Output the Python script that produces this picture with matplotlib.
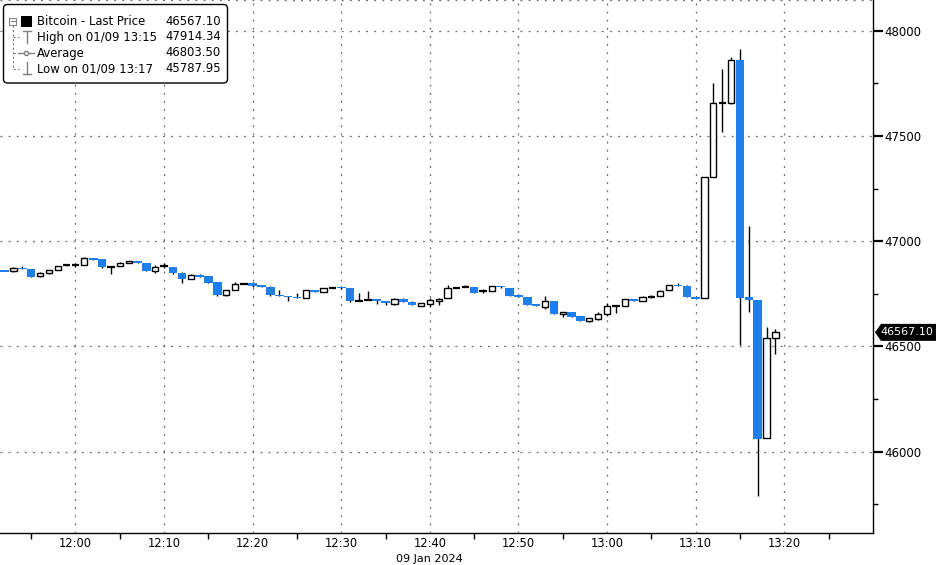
import matplotlib
matplotlib.use("Agg")
import matplotlib.pyplot as plt
from matplotlib.patches import Rectangle, FancyBboxPatch, Polygon
from matplotlib.transforms import Affine2D
from matplotlib.lines import Line2D

# ---------------- data (1-minute candles, 09 Jan 2024) ----------------
times = ["11:52","11:53","11:54","11:55","11:56","11:57","11:58","11:59",
         "12:00","12:01","12:02","12:03","12:04","12:05","12:06","12:07","12:08","12:09",
         "12:10","12:11","12:12","12:13","12:14","12:15","12:16","12:17","12:18","12:19",
         "12:20","12:21","12:22","12:23","12:24","12:25","12:26","12:27","12:28","12:29",
         "12:30","12:31","12:32","12:33","12:34","12:35","12:36","12:37","12:38","12:39",
         "12:40","12:41","12:42","12:43","12:44","12:45","12:46","12:47","12:48","12:49",
         "12:50","12:51","12:52","12:53","12:54","12:55","12:56","12:57","12:58","12:59",
         "13:00","13:01","13:02","13:03","13:04","13:05","13:06","13:07","13:08","13:09",
         "13:10","13:11","13:12","13:13","13:14","13:15","13:16","13:17","13:18","13:19"]
opens = [46861,46858,46872,46868,46833,46847,46863,46885,
         46887,46887,46919,46914,46880,46884,46897,46905,46898,46860,
         46882,46879,46850,46821,46841,46835,46806,46743,46767,46798,
         46803,46790,46784,46746,46740,46736,46730,46768,46759,46780,
         46782,46778,46718,46721,46725,46716,46703,46727,46713,46694,
         46702,46718,46729,46779,46783,46781,46762,46764,46788,46776,
         46746,46733,46700,46689,46716,46654,46664,46645,46623,46632,
         46654,46692,46692,46724,46718,46737,46740,46768,46793,46789,
         46734,46729,47304,47655,47655,47861,46734,46721,46064,46539]
highs = [46862,46878,46881,46870,46855,46864,46884,46890,
         46895,46927,46921,46915,46882,46900,46908,46906,46899,46887,
         46895,46880,46852,46843,46843,46836,46807,46769,46806,46799,
         46805,46794,46785,46768,46741,46752,46770,46770,46780,46782,
         46785,46779,46756,46765,46726,46717,46728,46728,46714,46706,
         46728,46728,46792,46782,46792,46782,46771,46788,46789,46777,
         46747,46734,46701,46740,46717,46665,46665,46646,46635,46665,
         46705,46693,46726,46725,46738,46745,46766,46791,46800,46790,
         46735,47307,47750,47817,47877,47914,47072,46722,46594,46582]
lows = [46857,46856,46866,46830,46831,46846,46862,46884,
        46879,46886,46913,46874,46843,46882,46896,46898,46858,46851,
        46871,46845,46803,46819,46828,46801,46741,46741,46766,46797,
        46784,46782,46741,46738,46716,46729,46729,46757,46758,46779,
        46774,46713,46716,46720,46700,46697,46697,46709,46695,46693,
        46689,46697,46728,46778,46782,46755,46752,46763,46780,46739,
        46735,46696,46691,46680,46652,46638,46641,46620,46618,46626,
        46646,46661,46691,46715,46717,46730,46739,46767,46786,46733,
        46726,46728,47303,47520,47654,46507,46665,45788,46063,46463]
closes = [46858,46872,46868,46832,46849,46862,46882,46885,
          46887,46919,46914,46876,46880,46898,46906,46899,46860,46876,
          46882,46847,46819,46841,46832,46803,46743,46767,46797,46798,
          46786,46784,46743,46740,46735,46730,46768,46759,46778,46780,
          46776,46715,46718,46721,46716,46705,46727,46710,46696,46705,
          46719,46727,46776,46779,46783,46756,46762,46787,46781,46740,
          46737,46697,46692,46716,46653,46664,46642,46621,46634,46656,
          46694,46692,46724,46716,46737,46737,46765,46790,46787,46734,
          46727,47307,47655,47655,47861,46729,46721,46059,46539,46567.10]

x_labels = ["12:00","12:10","12:20","12:30","12:40","12:50","13:00","13:10","13:20"]
y_ticks = [46000, 46500, 47000, 47500, 48000]
date_label = "09 Jan 2024"
legend_rows = [("Bitcoin - Last Price", "46567.10"),
               ("High on 01/09 13:15", "47914.34"),
               ("Average", "46803.50"),
               ("Low on 01/09 13:17", "45787.95")]
last_price = 46567.10

# ---------------- helpers ----------------
def to_min(t):
    h, m = t.split(":")
    return (int(h) - 12) * 60 + int(m)

xs = [to_min(t) for t in times]
BLUE = "#1f7fea"
W, H = 937, 565

plt.rcParams['font.family'] = ['DejaVu Sans']
fig = plt.figure(figsize=(W / 100, H / 100), dpi=100)
ax = fig.add_axes([0, 1 - 533 / H, 873.3 / W, 533 / H])
ax.set_xlim(-8.52, 90.05)
ax.set_ylim(45614, 48146)

# grid
grid_kw = dict(color="#6a6a6a", linewidth=0.9, linestyle=(0, (1.5, 5)), zorder=0)
for t in x_labels:
    ax.axvline(to_min(t), **grid_kw)
for v in y_ticks:
    ax.axhline(v, **grid_kw)
ax.axhline(48146, **grid_kw)

# wicks
ax.vlines(xs, lows, highs, color="black", linewidth=1.0, zorder=2)

# bodies
for x, o, c in zip(xs, opens, closes):
    if abs(c - o) < 0.5:
        ax.hlines(o, x - 0.42, x + 0.42, color="black", linewidth=1.6, zorder=3)
    elif c > o:
        ax.bar(x, c - o, bottom=o, width=0.7, color="white", edgecolor="black",
               linewidth=1.0, zorder=3)
    else:
        h = max(o - c, 6)
        ax.bar(x, h, bottom=o - h, width=0.97, color=BLUE, edgecolor="none",
               linewidth=0, zorder=3)

# axes styling
for s in ["left", "top"]:
    ax.spines[s].set_visible(False)
ax.spines["right"].set_linewidth(1.0)
ax.spines["bottom"].set_linewidth(1.0)
ax.yaxis.tick_right()
ax.set_yticks(y_ticks)
ax.set_yticklabels([str(v) for v in y_ticks])
ax.set_yticks([46250 + 500 * i for i in range(4)] + [45750], minor=True)
ax.tick_params(axis="y", which="major", length=7, width=1.6, pad=1, labelsize=8.5,
               direction="out")
ax.tick_params(axis="y", which="minor", length=3.5, width=1.0, direction="out")
ax.set_xticks([to_min(t) for t in x_labels])
ax.set_xticklabels(x_labels)
ax.set_xticks([to_min(t) - 5 for t in x_labels] + [85], minor=True)
ax.tick_params(axis="x", which="major", length=0, pad=3, labelsize=8.3)
ax.tick_params(axis="x", which="minor", length=4, width=1.0, direction="out")
fig.text(ax.transData.transform((40, 0))[0] / W, 0.5 / H, date_label, ha="center",
         va="bottom", fontsize=8)

# pixel transform (origin top-left)
px = Affine2D().scale(1 / W, -1 / H).translate(0, 1) + fig.transFigure

# last price tag
yp = ax.transData.transform((0, last_price))[1]
yp_px = H - yp
tag = Polygon([(875, yp_px), (881, yp_px - 8.5), (937, yp_px - 8.5),
               (937, yp_px + 8.5), (881, yp_px + 8.5)], closed=True,
              facecolor="black", edgecolor="none", transform=px)
fig.add_artist(tag)
fig.text(880.5 / W, 1 - yp_px / H, f"{last_price:.2f}", color="white", fontsize=8,
         ha="left", va="center")

# legend box
box = FancyBboxPatch((3.5, 4.5), 224, 78.5, boxstyle="round,pad=0,rounding_size=4",
                     facecolor="white", edgecolor="black", linewidth=1.0, transform=px,
                     zorder=10)
fig.add_artist(box)
row_y = [21.5, 37, 53, 69]
for (lab, val), y in zip(legend_rows, row_y):
    fig.text(37 / W, 1 - y / H, lab, fontsize=8.4, ha="left", va="center", zorder=11)
    fig.text(221 / W, 1 - y / H, val, fontsize=8.4, ha="right", va="center", zorder=11)

gray = "#808080"
def pline(xd, yd, **kw):
    fig.add_artist(Line2D(xd, yd, transform=px, zorder=11, **kw))

# tree collapse box
fig.add_artist(Rectangle((9.5, 17.5), 7, 7, facecolor="white", edgecolor=gray,
                         linewidth=0.8, transform=px, zorder=11))
pline([11, 15], [21, 21], color=gray, linewidth=0.8)
# black square
fig.add_artist(Rectangle((21, 16), 11, 11, facecolor="black", edgecolor="none",
                         transform=px, zorder=11))
# dashed tree lines
pline([13, 13], [25, 69], color=gray, linewidth=0.8, linestyle=(0, (2, 2)))
for y in row_y[1:]:
    pline([13, 19], [y, y], color=gray, linewidth=0.8, linestyle=(0, (2, 2)))
# high icon
pline([23, 31], [31, 31], color=gray, linewidth=1.0)
pline([27, 27], [31, 43], color=gray, linewidth=1.0)
# average icon
pline([19, 34], [53, 53], color=gray, linewidth=1.0)
pline([26.5], [53], color=gray, marker="o", markersize=3, markerfacecolor="white")
# low icon
pline([27, 27], [62, 74], color=gray, linewidth=1.0)
pline([23, 31], [74, 74], color=gray, linewidth=1.0)

fig.savefig("out.png", dpi=100)
